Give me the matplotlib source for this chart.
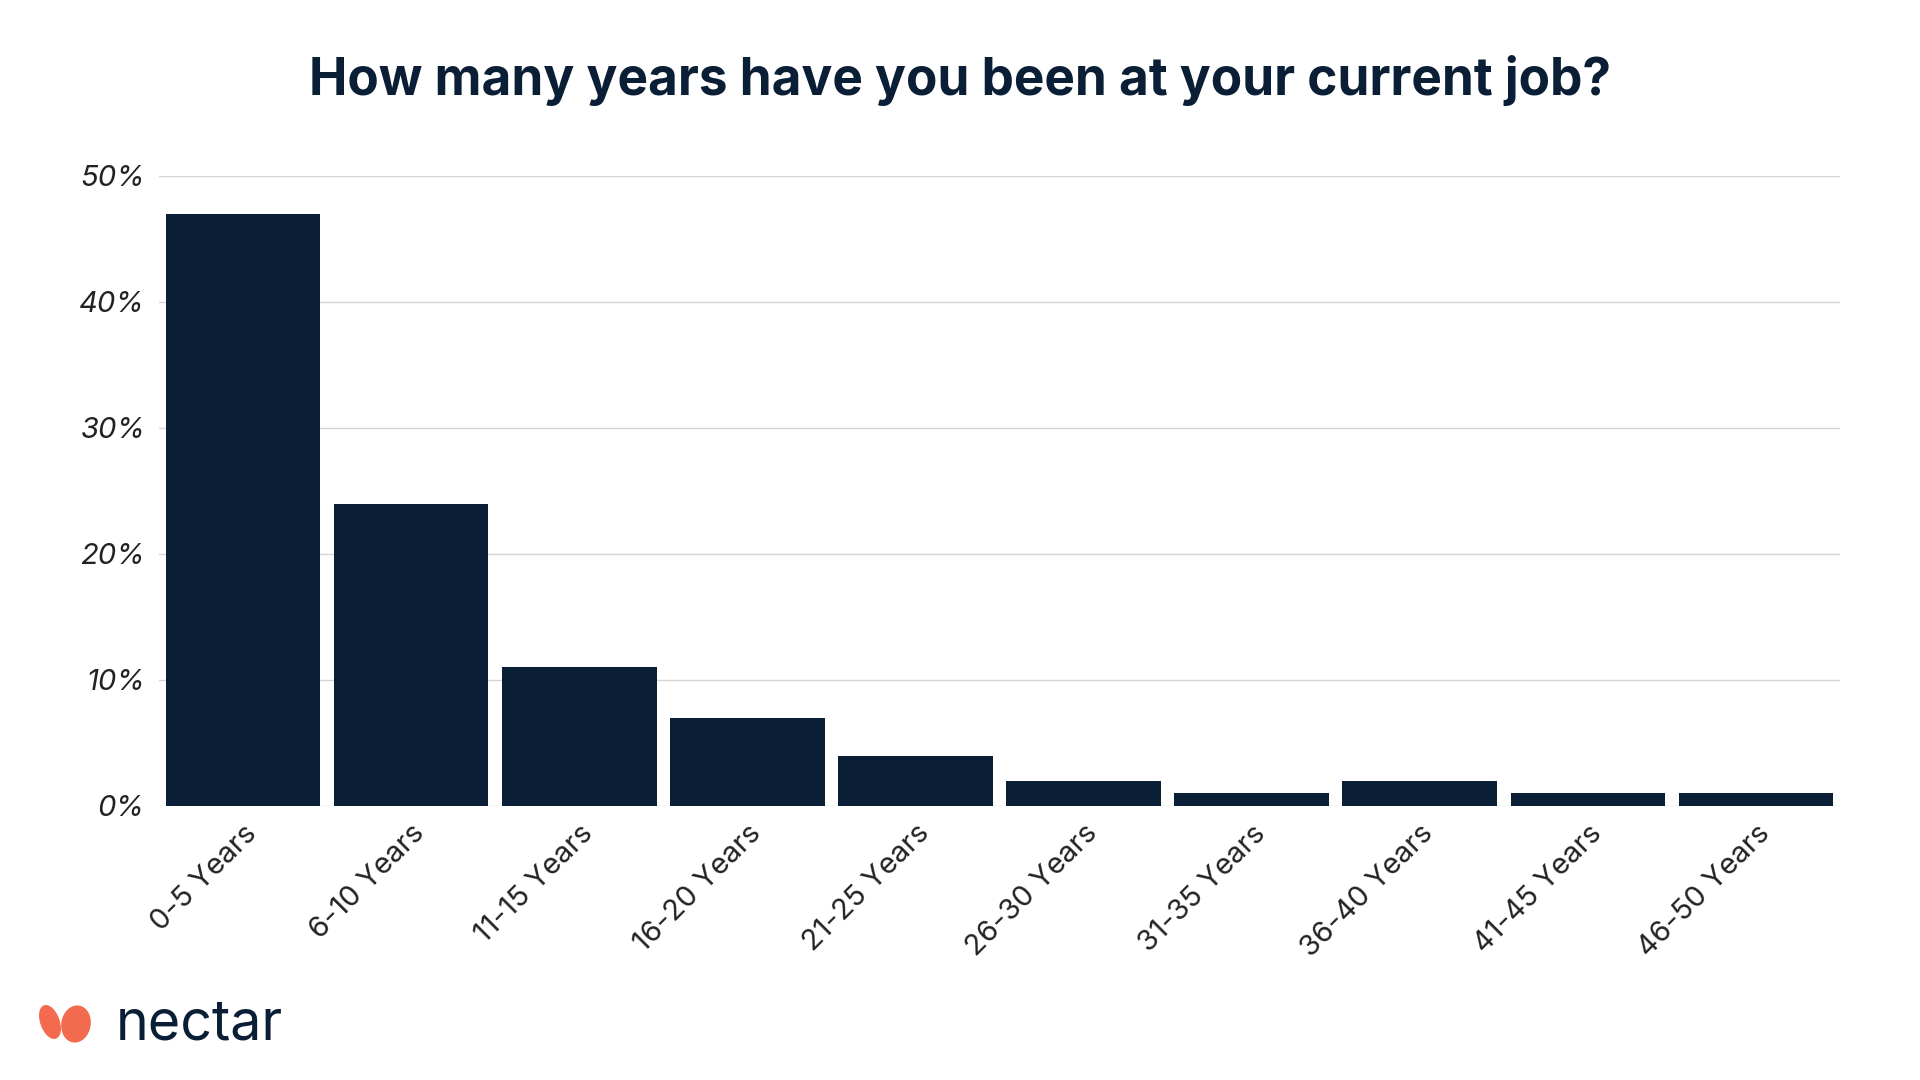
import matplotlib.pyplot as plt
from matplotlib.patches import Ellipse

categories = ["0-5 Years", "6-10 Years", "11-15 Years", "16-20 Years", "21-25 Years",
              "26-30 Years", "31-35 Years", "36-40 Years", "41-45 Years", "46-50 Years"]
values = [47, 24, 11, 7, 4, 2, 1, 2, 1, 1]
yticks = [0, 10, 20, 30, 40, 50]

navy = "#0a1e35"
plt.rcParams['font.family'] = ['Inter', 'DejaVu Sans']

fig = plt.figure(figsize=(19.2, 10.8), dpi=100)
ax = fig.add_axes([159 / 1920, 1 - 806 / 1080, (1840 - 159) / 1920, (806 - 176) / 1080])
ax.bar(range(len(values)), values, width=0.92, color=navy, zorder=3)
ax.set_xlim(-0.5, len(values) - 0.5)
ax.set_ylim(0, 50)
ax.set_yticks(yticks)
ax.set_yticklabels([f"{v}%" for v in yticks], fontsize=21, style='italic', color="#222222")
ax.set_xticks(range(len(values)))
ax.set_xticklabels(categories, rotation=45, ha='right', rotation_mode='anchor',
                   fontsize=21, color="#222222")
ax.grid(axis='y', color="#d6d6d6", linewidth=1, zorder=0)
for s in ax.spines.values():
    s.set_visible(False)
ax.tick_params(length=0, pad=10)

fig.text(0.5, 1 - 80 / 1080, "How many years have you been at your current job?",
         ha='center', va='center', fontsize=37, fontweight='bold', color=navy)

# logo
lax = fig.add_axes([34 / 1920, 1 - 1050 / 1080, 70 / 1920, 60 / 1080])
lax.set_xlim(0, 70)
lax.set_ylim(0, 60)
lax.axis('off')
lax.add_patch(Ellipse((16, 28), 18, 34, angle=20, color="#f26b4f"))
lax.add_patch(Ellipse((42, 26), 28, 36, angle=-10, color="#f26b4f"))
fig.text(116 / 1920, 1 - 1025 / 1080, "nectar", fontsize=40, color=navy, va='center')

fig.savefig("out.png", dpi=100)
